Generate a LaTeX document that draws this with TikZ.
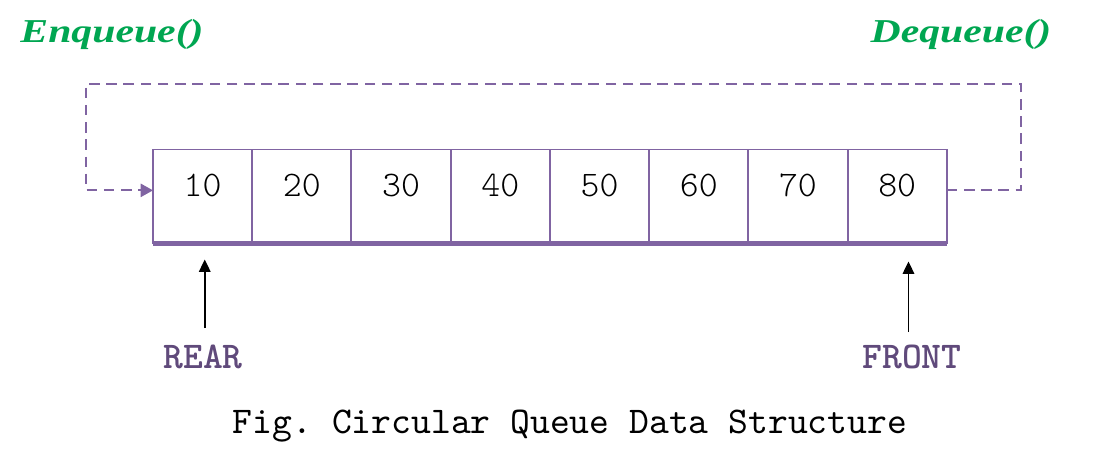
\documentclass[tikz,border=0pt]{standalone}
\usepackage{fontspec}
\setmonofont{lmmono10-regular.otf}
\newfontfamily\cellfont{lmmonolt10-regular.otf}
\newfontfamily\endfont{lmmonolt10-bold.otf}
\newfontfamily\opfont{Liberation Serif}
\usetikzlibrary{positioning}
\usetikzlibrary{arrows.meta}
\definecolor{cellline}{RGB}{128,100,162}
\definecolor{endpurple}{RGB}{96,74,123}
\definecolor{opgreen}{RGB}{0,166,81}

\begin{document}
\begin{tikzpicture}[x=0.02cm, y=-0.02cm,
		cell/.style={draw=cellline, line width=1.1pt, inner sep=0, outer sep=0, minimum width=1.985cm, text height=0.94cm, text depth=0.94cm, font=\cellfont\fontsize{20.5}{24}\selectfont},
		opname/.style={text=opgreen, font=\opfont\bfseries\itshape\fontsize{19}{23}\selectfont, xscale=1.25, inner sep=0, anchor=base},
		endname/.style={text=endpurple, font=\endfont\fontsize{21.5}{25}\selectfont, inner sep=0, anchor=base},
		pointer/.style={-{Triangle[length=7pt, width=6.5pt]}, line width=1.1pt},
		loopline/.style={draw=cellline, dash pattern=on 6pt off 3.8pt, line width=1.1pt}]
			\useasboundingbox (0, 0) rectangle (1117, 464);
			\node[cell] (c1) at (202.6, 196.5) {10};
			\foreach \v [count=\i from 2, remember=\i as \j (initially 1)] in {20, 30, 40, 50, 60, 70, 80}
				\node[cell, right=0pt of c\j] (c\i) {\v};
			\draw[cellline, line width=2.6pt] (c1.south west) -- (c8.south east);
			\node[opname] (enq) at (112, 42) {Enqueue()};
			\node[opname] (deq) at (961, 42) {Dequeue()};
			\coordinate (loop ne) at (1021, 84);
			\coordinate (loop nw) at (86, 84);
			\draw[loopline, -{Triangle[length=7pt, width=7.5pt]}] ([yshift=3.5pt]c8.east) -| (loop ne) -- (loop nw) |- ([yshift=3.5pt]c1.west);
			\node[endname] (rear) at (203, 368) {REAR};
			\node[endname] (front) at (912, 368) {FRONT};
			\draw[pointer, shorten <=0.32cm, shorten >=0.32cm] ([xshift=1pt]rear.north) -- ([xshift=1pt]rear.north |- c1.south);
			\draw[pointer, shorten <=0.24cm, shorten >=0.36cm] ([xshift=-2pt]front.north) -- ([xshift=-2pt]front.north |- c8.south);
			\node[anchor=base, font=\ttfamily\fontsize{21.5}{25}\selectfont] (caption) at (570, 433) {Fig. Circular Queue Data Structure};
		\end{tikzpicture}
\end{document}
